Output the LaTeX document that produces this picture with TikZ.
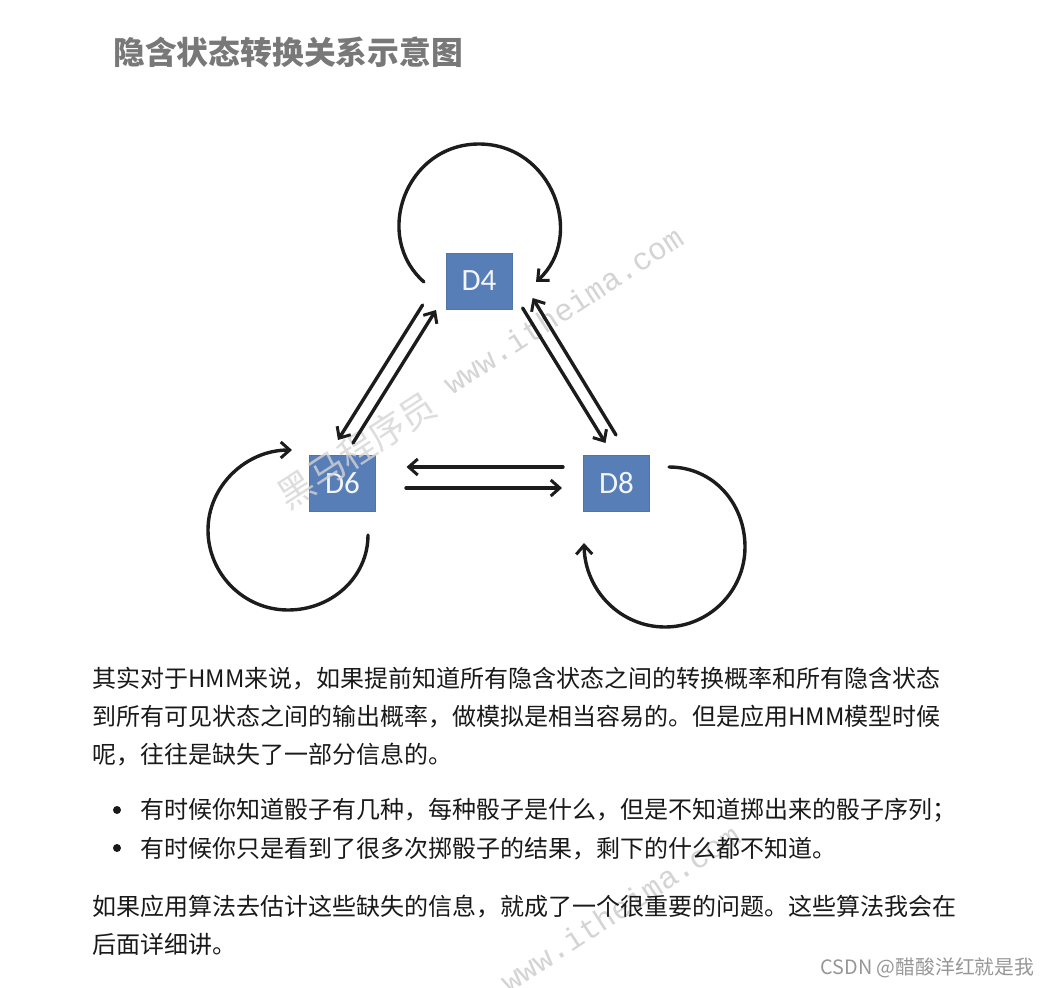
\documentclass[tikz,border=0pt]{standalone}
\usepackage{fontspec}
\usepackage{tikz}
\usetikzlibrary{arrows.meta}
\setmainfont{Noto Sans CJK SC}
\setmonofont{Liberation Mono}
\definecolor{box_blue}{RGB}{88,126,184}
\definecolor{edge_black}{RGB}{28,28,28}
\definecolor{title_gray}{RGB}{120,120,120}
\definecolor{mark_gray}{RGB}{212,212,212}
\definecolor{csdn_gray}{RGB}{150,150,150}

\begin{document}
\begin{tikzpicture}[x=1pt,y=-1pt,>={Straight Barb[length=9pt,width=16pt,line width=3pt]},line width=3.4pt]
    \tikzstyle{state}=[draw=box_blue!92!black, line width=0.8pt, fill=box_blue, minimum width=66pt, minimum height=56pt, inner sep=0pt, text=white!92!box_blue, font=\fontsize{31}{31}\selectfont\fontspec{Carlito}]
    \tikzstyle{body}=[anchor=west, inner sep=0pt, text=black!90, font=\fontsize{24}{24}\selectfont]
    \tikzstyle{wmark}=[inner sep=0pt, text=mark_gray, rotate=33]
    \tikzstyle{flow}=[->, edge_black, line cap=round]
    \useasboundingbox (0,0) rectangle (1050,988);
    \clip (0,0) rectangle (1050,988);

    \node[anchor=west, inner sep=0pt, text=title_gray, font=\fontsize{31.8}{32}\selectfont\bfseries] (title) at (111.5,52) {隐含状态转换关系示意图};

    % watermarks sit under everything else
    \node[wmark, font=\fontsize{31}{32}\selectfont\ttfamily] (mark_url) at (563,310) {www.itheima.com};
    \node[wmark, font=\fontsize{31}{32}\selectfont\ttfamily] (mark_url_low) at (620,908) {www.itheima.com};

    \node[state] (d4) at (479,281) {D4};
    \node[state] (d6) at (342.5,483) {D6};
    \node[state] (d8) at (616.5,483) {D8};
    \node[wmark, font=\fontsize{36}{36}\selectfont, text opacity=0.8] (mark_name) at (357,450) {黑马程序员};

    \coordinate (d4_out) at ([shift={(-55,1)}]d4.center);
    \coordinate (d4_top) at ([shift={(0,-137)}]d4.center);
    \coordinate (d4_in)  at ([shift={(57,1)}]d4.center);
    \coordinate (d6_out) at ([shift={(25.5,52)}]d6.center);
    \coordinate (d6_low) at ([shift={(-54.5,127)}]d6.center);
    \coordinate (d6_left) at ([shift={(-134.5,47)}]d6.center);
    \coordinate (d6_in)  at ([shift={(-50.5,-33)}]d6.center);
    \coordinate (d8_out) at ([shift={(52.5,-16)}]d8.center);
    \coordinate (d8_right) at ([shift={(128.5,64)}]d8.center);
    \coordinate (d8_low) at ([shift={(48.5,144)}]d8.center);
    \coordinate (d8_in)  at ([shift={(-32.5,60)}]d8.center);

    \draw[flow] (d4_out) .. controls (372,236) and (406,144) .. (d4_top)
                         .. controls (552,144) and (586,236) .. (d4_in);
    \draw[flow] (d6_out) .. controls (368,577) and (332,610) .. (d6_low)
                         .. controls (244,610) and (208,574) .. (d6_left)
                         .. controls (208,486) and (246,450) .. (d6_in);
    \draw[flow] (d8_out) .. controls (713,467) and (745,503) .. (d8_right)
                         .. controls (745,591) and (709,627) .. (d8_low)
                         .. controls (621,627) and (585,591) .. (d8_in);

    \path
     ([shift={(-56.4,24)}]d4.center) edge[flow] ([shift={(-4.5,-43)}]d6.center)
     ([shift={(10.5,-40)}]d6.center) edge[flow] ([shift={(-43,29)}]d4.center)
     ([shift={(43.6,27)}]d4.center) edge[flow] ([shift={(-11,-40)}]d8.center)
     ([shift={(-0.5,-48)}]d8.center) edge[flow] ([shift={(53.6,17)}]d4.center)
     ([shift={(-53.5,-16)}]d8.center) edge[flow] ([shift={(64,-16)}]d6.center)
     ([shift={(63.5,5)}]d6.center) edge[flow] ([shift={(-54.5,5)}]d8.center)
     ;

    \node[body] (line_a) at (90.5,678.5) {其实对于HMM来说，如果提前知道所有隐含状态之间的转换概率和所有隐含状态};
    \node[body] (line_b) at (90.5,716.5) {到所有可见状态之间的输出概率，做模拟是相当容易的。但是应用HMM模型时候};
    \node[body] (line_c) at (90.5,754.5) {呢，往往是缺失了一部分信息的。};
    \node[circle, fill=black!90, minimum size=8pt, inner sep=0pt] (dot_a) at (117,810) {};
    \node[body] (line_d) at (138.5,810.5) {有时候你知道骰子有几种，每种骰子是什么，但是不知道掷出来的骰子序列；};
    \node[circle, fill=black!90, minimum size=8pt, inner sep=0pt] (dot_b) at (117,848) {};
    \node[body] (line_e) at (138.5,848.5) {有时候你只是看到了很多次掷骰子的结果，剩下的什么都不知道。};
    \node[body] (line_f) at (90.5,906.5) {如果应用算法去估计这些缺失的信息，就成了一个很重要的问题。这些算法我会在};
    \node[body] (line_g) at (90.5,944.5) {后面详细讲。};
    \node[anchor=east, inner sep=0pt, text=csdn_gray, font=\fontsize{19.8}{20}\selectfont] (csdn) at (1036,968) {CSDN @醋酸洋红就是我};
\end{tikzpicture}
\end{document}
